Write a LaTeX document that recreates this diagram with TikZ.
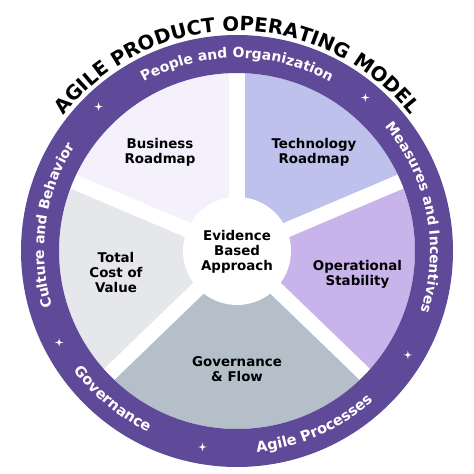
\documentclass[tikz,border=0pt]{standalone}
\usepackage{fontspec}
\setmainfont{DejaVu Sans}
\usetikzlibrary{decorations.text}
\definecolor{ringc}{HTML}{5E4A98}
\definecolor{busc}{HTML}{F4F0FC}
\definecolor{techc}{HTML}{BDC1EC}
\definecolor{opc}{HTML}{C8B3EB}
\definecolor{govc}{HTML}{B4BFC9}
\definecolor{costc}{HTML}{E6E7EB}
\newcommand\ttlfnt{\bfseries\fontsize{19.7}{20}\selectfont}
\newcommand\ringfnt{\bfseries\fontsize{14}{16}\selectfont}
\newcommand\ringfntb{\bfseries\fontsize{14.6}{16}\selectfont}
\tikzset{
  lbl/.style={align=center, inner sep=0pt, text=black, font=\bfseries\fontsize{13.4}{15}\selectfont},
  gapline/.style={white, line width=15pt},
  toptext/.style={decorate, decoration={text along path, text align=center, text color=white, text={|\ringfnt|#1}}},
  bottext/.style={decorate, decoration={text along path, text align=center, text color=white, text={|\ringfntb|#1}}},
  sparkle/.pic={\fill[white] (0,4.5) .. controls (0.6,0.6) .. (4.5,0) .. controls (0.6,-0.6) .. (0,-4.5) .. controls (-0.6,-0.6) .. (-4.5,0) .. controls (-0.6,0.6) .. (0,4.5) -- cycle;}
}
\begin{document}
\begin{tikzpicture}[x=1pt,y=1pt]
\useasboundingbox (-237,-223) rectangle (237,251);
% sectors
\fill[busc]  (0,0) -- (90:178)  arc[start angle=90, end angle=157, radius=178] -- cycle;
\fill[costc] (0,0) -- (157:178) arc[start angle=157, end angle=224, radius=178] -- cycle;
\fill[govc]  (0,0) -- (224:178) arc[start angle=224, end angle=316, radius=178] -- cycle;
\fill[opc]   (0,0) -- (-44:178) arc[start angle=-44, end angle=23, radius=178] -- cycle;
\fill[techc] (0,0) -- (23:178)  arc[start angle=23, end angle=90, radius=178] -- cycle;
% gaps
\coordinate (c) at (0,0);
\foreach \a in {90,23,-44,-136,157} \draw[gapline] (c) -- (\a:182);
\fill[white] (c) circle (54);
% ring
\fill[ringc, even odd rule] (c) circle (216) (c) circle (178);
% title
\path[decorate, decoration={text along path, text align=center, text={|\ttlfnt|AGILE PRODUCT OPERATING MODEL}}] (180:220) arc[start angle=180, end angle=0, radius=220];
% ring texts
\path[toptext={People and Organization}] (150:193) arc[start angle=150, end angle=30, radius=193];
\path[toptext={Culture and Behavior}] (232:193) arc[start angle=232, end angle=112, radius=193];
\path[toptext={Measures and Incentives}] (71:193) arc[start angle=71, end angle=-49, radius=193];
\path[bottext={Agile Processes}] (-126:202) arc[start angle=-126, end angle=-6, radius=202];
\path[bottext={Governance}] (-190:202) arc[start angle=-190, end angle=-70, radius=202];
% sparkles
\pic at (133.8:200) {sparkle};
\pic at (50.1:200) {sparkle};
\pic at (207.2:200) {sparkle};
\pic at (-100:199) {sparkle};
\pic at (-31.3:200) {sparkle};
% labels
\node[lbl] (bus) at (-77,98.5) {Business\\Roadmap};
\node[lbl] (tech) at (77,98.5) {Technology\\Roadmap};
\node[lbl] (cost) at (-121,-22) {Total\\Cost of\\Value};
\node[lbl] (op) at (120.5,-23) {Operational\\Stability};
\node[lbl] (gov) at (0,-118.5) {Governance\\\& Flow};
\node[lbl] (ev) at (0,-1) {Evidence\\Based\\Approach};
\end{tikzpicture}
\end{document}
